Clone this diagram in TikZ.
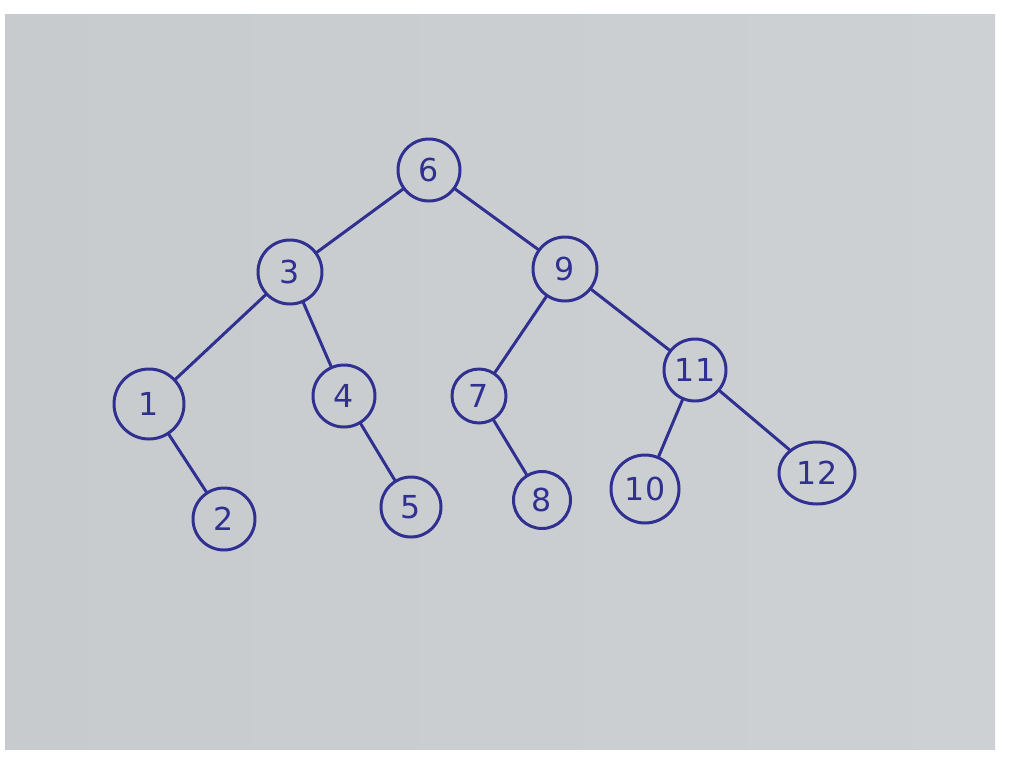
\documentclass[tikz,border=0pt]{standalone}
\usepackage{fontspec}
\setsansfont{DejaVu Sans}
\usetikzlibrary{shapes.geometric}
\definecolor{ink}{RGB}{48,48,145}
\definecolor{paperL}{RGB}{200,203,205}
\definecolor{paperM}{RGB}{220,223,225}
\definecolor{paperR}{RGB}{206,209,212}
\tikzset{
  tn/.style={circle, draw=ink, line width=1.7pt, text=ink, inner sep=0pt,
    minimum size=62*0.02cm, font=\sffamily\fontsize{18}{21}\selectfont},
  edge/.style={draw=ink, line width=1.7pt, line cap=round}
}
\begin{document}
\begin{tikzpicture}[x=0.02cm, y=-0.02cm]
\useasboundingbox (0,0) rectangle (1024,762);
\fill[white] (0,0) rectangle (1024,762);
\shade[left color=paperL, middle color=paperM, right color=paperR] (5,14) rectangle (995,749);
\node[tn] (n6) at (429,170) {6};
\node[tn, minimum size=64*0.02cm] (n3) at (290,272) {3};
\node[tn, minimum size=64*0.02cm] (n9) at (565,269) {9};
\node[tn, minimum size=70*0.02cm] (n1) at (149,404) {1};
\node[tn] (n4) at (344,396) {4};
\node[tn, minimum size=54*0.02cm] (n7) at (479,396) {7};
\node[tn, minimum size=62*0.02cm] (n11) at (695,370) {11};
\node[tn] (n2) at (224,519) {2};
\node[tn, minimum size=60*0.02cm] (n5) at (411,507) {5};
\node[tn, minimum size=57*0.02cm] (n8) at (542,500) {8};
\node[tn, minimum size=68*0.02cm] (n10) at (645,489) {10};
\node[tn, ellipse, minimum width=76*0.02cm, minimum height=62*0.02cm] (n12) at (817,473) {12};
\draw[edge] (n6) -- (n3);
\draw[edge] (n6) -- (n9);
\draw[edge] (n3) -- (n1);
\draw[edge] (n3) -- (n4);
\draw[edge] (n9) -- (n7);
\draw[edge] (n9) -- (n11);
\draw[edge] (n1) -- (n2);
\draw[edge] (n4) -- (n5);
\draw[edge] (n7) -- (n8);
\draw[edge] (n11) -- (n10);
\draw[edge] (n11) -- (n12);
\end{tikzpicture}
\end{document}
